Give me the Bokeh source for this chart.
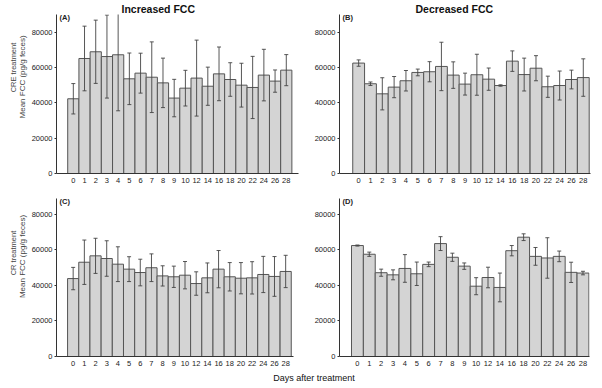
import math
from bokeh.plotting import figure
from bokeh.models import ColumnDataSource, Range1d, FixedTicker, Label, Title
from bokeh.layouts import column, row
from bokeh.embed import file_html
from bokeh.resources import INLINE

# ---------------- data ----------------
days = ["0", "1", "2", "3", "4", "5", "6", "7", "8", "9",
        "10", "12", "14", "16", "18", "20", "22", "24", "26", "28"]
y_ticks = [0, 20000, 40000, 60000, 80000]

a_mean = [42300, 65100, 68900, 66200, 67200, 53600, 56800, 54500, 51300, 42700,
          48300, 54000, 49400, 56400, 53200, 50000, 48700, 55700, 52300, 58500]
a_err = [8600, 18300, 17900, 23500, 31700, 14600, 11300, 20000, 14000, 10600,
         10100, 21500, 10800, 15200, 9500, 12400, 17600, 14600, 6300, 8800]

b_mean = [62500, 50800, 45100, 48900, 52500, 57200, 57600, 60600, 55700, 50600,
          55900, 53400, 49800, 63600, 56000, 59600, 49100, 49800, 53200, 54300]
b_err = [1800, 1000, 9100, 6000, 5800, 1900, 5700, 13700, 7500, 6200,
         11600, 6300, 400, 5800, 9300, 7100, 6000, 8200, 5300, 10600]

c_mean = [43900, 53100, 56700, 55200, 52000, 49200, 47300, 50000, 45400, 44900,
          45800, 41100, 44300, 49200, 44900, 44100, 44300, 46200, 45100, 47900]
c_err = [6300, 12500, 9900, 10000, 9800, 7000, 7500, 7800, 5700, 6000,
         7700, 6600, 8400, 10500, 8000, 8800, 9100, 10200, 11200, 9100]

d_mean = [62500, 57600, 47200, 46000, 49600, 46600, 51900, 63600, 55900, 50900,
          39600, 44500, 38900, 59600, 67200, 56400, 55500, 56400, 47400, 47000]
d_err = [300, 1200, 2000, 2800, 7800, 6600, 1300, 3900, 2300, 1800,
         4800, 5800, 8100, 2900, 1900, 5000, 11400, 3000, 5700, 1000]

col_titles = ["Increased FCC", "Decreased FCC"]
row_labels = ["CRE treatment", "CR treatment"]
y_unit_label = "Mean FCC (pg/g feces)"
panel_letters = ["(A)", "(B)", "(C)", "(D)"]
x_title = "Days after treatment"

# ---------------- style ----------------
FONT = "Liberation Sans"
BAR_FILL = "#d4d4d4"
BAR_LINE = "#555555"
ERR_COL = "#444444"
AXIS_COL = "#333333"
TXT = "#222222"
YLAB_COL = "#444444"
LAB_W = 28


def make_panel(mean, err, letter, width, height, borders, xr, ymax,
               title=None, title_off=None):
    x = list(range(len(days)))
    src = ColumnDataSource(dict(
        x=x, top=mean,
        up=[m + e for m, e in zip(mean, err)],
        lo=[m - e for m, e in zip(mean, err)],
    ))
    p = figure(width=width, height=height, output_backend="svg",
               toolbar_location=None, tools="",
               x_range=Range1d(*xr), y_range=Range1d(0, ymax),
               min_border_left=borders[0], min_border_right=borders[1],
               min_border_top=borders[2], min_border_bottom=borders[3])
    p.outline_line_color = None
    p.grid.visible = False
    p.background_fill_color = "white"
    p.border_fill_color = "white"

    if title is not None:
        p.title = Title(text=title, align="left", offset=title_off, standoff=0,
                        text_font=FONT, text_font_size="10.5px",
                        text_font_style="bold", text_color="#111111")

    p.vbar(x="x", top="top", bottom=0, width=1.0, source=src,
           fill_color=BAR_FILL, line_color=BAR_LINE, line_width=1)
    p.segment(x0="x", x1="x", y0="lo", y1="up", source=src,
              line_color=ERR_COL, line_width=0.9)
    p.scatter(x="x", y="up", marker="dash", size=4, source=src,
              line_color=ERR_COL, line_width=0.9)
    p.scatter(x="x", y="lo", marker="dash", size=4, source=src,
              line_color=ERR_COL, line_width=0.9)

    xa = p.xaxis[0]
    xa.ticker = FixedTicker(ticks=x)
    xa.major_label_overrides = {i: d for i, d in enumerate(days)}
    xa.major_tick_line_color = None
    xa.major_tick_out = 0
    xa.major_tick_in = 0
    xa.minor_tick_line_color = None
    xa.axis_line_color = AXIS_COL
    xa.major_label_text_font = FONT
    xa.major_label_text_font_size = "7.5px"
    xa.major_label_text_color = TXT
    xa.major_label_standoff = 4

    ya = p.yaxis[0]
    ya.ticker = FixedTicker(ticks=y_ticks)
    ya.major_tick_out = 2
    ya.major_tick_in = 0
    ya.major_tick_line_color = AXIS_COL
    ya.minor_tick_line_color = None
    ya.axis_line_color = AXIS_COL
    ya.major_label_text_font = FONT
    ya.major_label_text_font_size = "7.5px"
    ya.major_label_text_color = TXT
    ya.major_label_standoff = 2

    fh = height - borders[2] - borders[3]
    p.add_layout(Label(x=3, y=fh + 2, x_units="screen", y_units="screen",
                       text=letter, text_font=FONT, text_font_size="7.5px",
                       text_font_style="bold", text_color=TXT,
                       text_align="left", text_baseline="top"))
    return p


def make_ylabel(height, lines, xs, ys, sizes):
    """Narrow strip holding the rotated two-line y-axis title."""
    q = figure(width=LAB_W, height=height, output_backend="svg",
               toolbar_location=None, tools="",
               x_range=Range1d(0, LAB_W), y_range=Range1d(0, height),
               x_axis_location=None, y_axis_location=None,
               min_border_left=0, min_border_right=0, min_border_top=0,
               min_border_bottom=0)
    q.outline_line_color = None
    q.grid.visible = False
    for txt, sx, sy, fs in zip(lines, xs, ys, sizes):
        q.add_layout(Label(x=sx, y=sy, x_units="screen", y_units="screen",
                           text=txt, angle=math.pi / 2,
                           text_font=FONT, text_font_size=fs,
                           text_color=YLAB_COL, text_align="center",
                           text_baseline="middle"))
    return q


labA = make_ylabel(190, [row_labels[0], y_unit_label], [13, 21.5],
                   [106, 96.6], ["7.5px", "8px"])
pA = make_panel(a_mean, a_err, panel_letters[0], 301 - LAB_W, 190,
                (53 - LAB_W, 3, 14, 17), (-1.5, 20.09), 90000,
                title=col_titles[0], title_off=65)
pB = make_panel(b_mean, b_err, panel_letters[1], 301, 190, (38, 12, 14, 17),
                (-1.62, 19.61), 90000, title=col_titles[1], title_off=76)
labC = make_ylabel(180, [row_labels[1], y_unit_label], [13, 21.5],
                   [103.5, 100], ["7.5px", "8px"])
pC = make_panel(c_mean, c_err, panel_letters[2], 301 - LAB_W, 180,
                (52 - LAB_W, 8, 8, 14), (-1.49, 19.7), 89000)
pD = make_panel(d_mean, d_err, panel_letters[3], 301, 180, (38, 13, 8, 14),
                (-1.51, 19.55), 89000)

pT = figure(width=602, height=18, output_backend="svg", toolbar_location=None,
            tools="", x_range=Range1d(0, 602), y_range=Range1d(0, 18),
            x_axis_location=None, y_axis_location=None,
            min_border_left=0, min_border_right=0, min_border_top=0,
            min_border_bottom=0)
pT.outline_line_color = None
pT.grid.visible = False
pT.add_layout(Label(x=313.5, y=11, x_units="screen", y_units="screen",
                    text=x_title, text_font=FONT, text_font_size="9px",
                    text_color="#111111", text_align="center",
                    text_baseline="middle"))

layout = column(row(labA, pA, pB), row(labC, pC, pD), pT)

with open("out.html", "w") as f:
    f.write(file_html(layout, INLINE))
